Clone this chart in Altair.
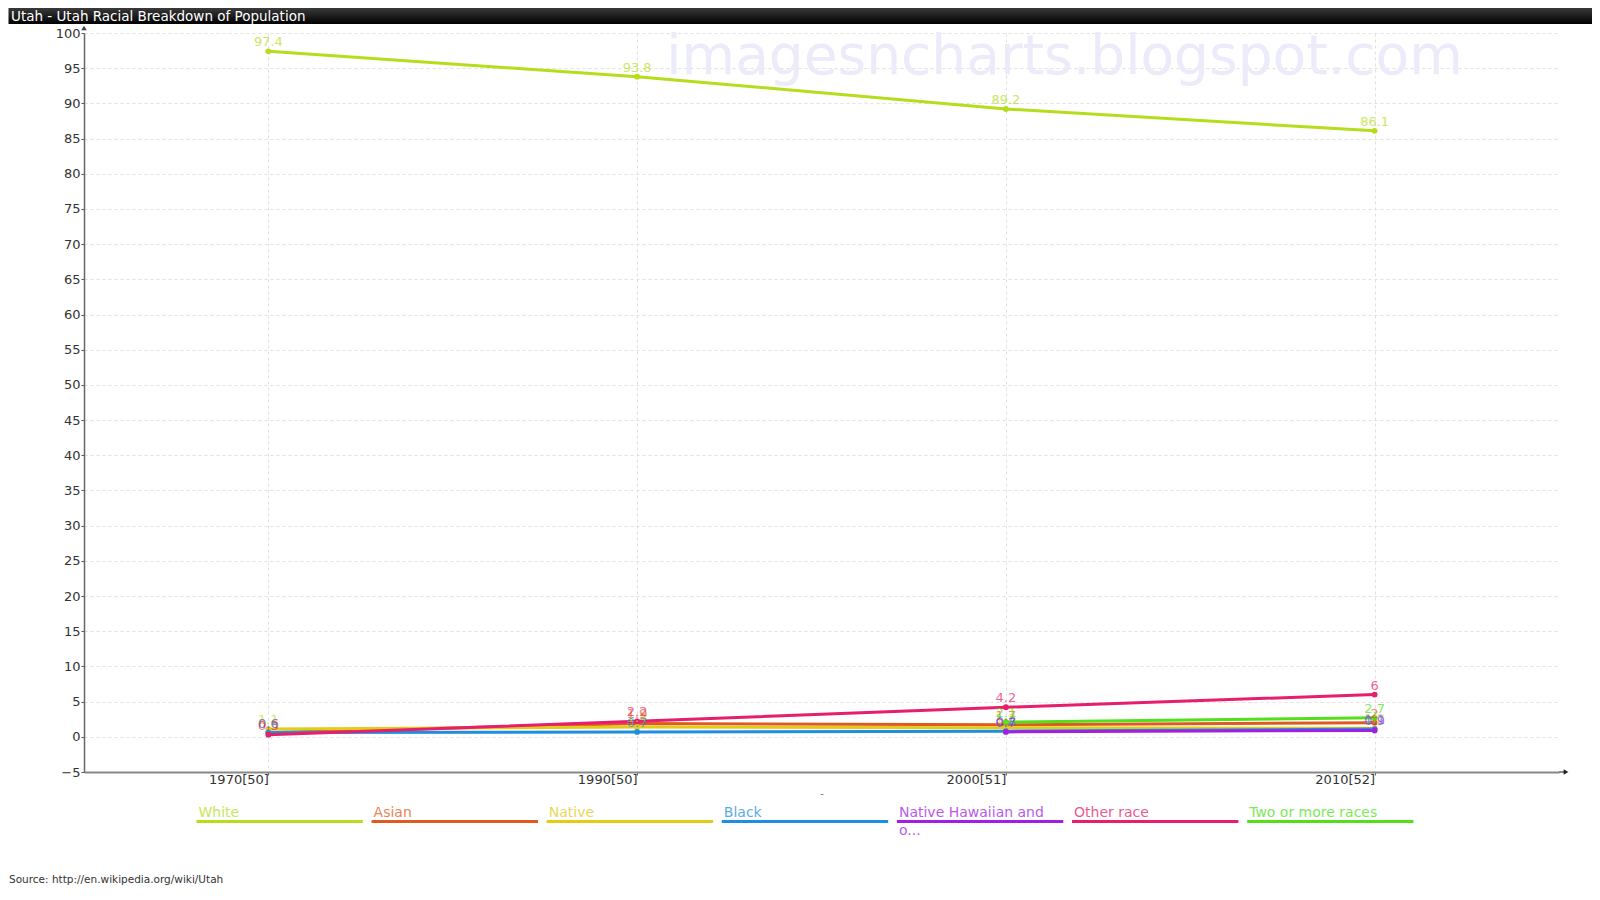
import altair as alt
import pandas as pd

# ---------------- data ----------------
years = ["1970[50]", "1990[50]", "2000[51]", "2010[52]"]
series = ["White", "Asian", "Native", "Black", "Native Hawaiian and other",
          "Other race", "Two or more races"]
legend_labels = ["White", "Asian", "Native", "Black", "Native Hawaiian and\no...",
                 "Other race", "Two or more races"]
white = [97.4, 93.8, 89.2, 86.1]
asian = [0.6, 1.9, 1.7, 2.0]
native = [1.1, 1.4, 1.3, 1.2]
black = [0.6, 0.7, 0.8, 1.1]
hawaiian = [None, None, 0.7, 0.9]
other_race = [0.3, 2.2, 4.2, 6.0]
two_more = [None, None, 2.1, 2.7]
colors = ["#b6dd1c", "#e05a1e", "#e2cc18", "#1e8fe0", "#a41ee2", "#e61e6c", "#52e01c"]
y_ticks = list(range(-5, 101, 5))
title_text = "Utah - Utah Racial Breakdown of Population"
source_text = "Source: http://en.wikipedia.org/wiki/Utah"
watermark_text = "imagesncharts.blogspot.com"

rows = []
for name, vals in zip(series, [white, asian, native, black, hawaiian, other_race, two_more]):
    for yr, v in zip(years, vals):
        if v is not None:
            rows.append({"series": name, "year": yr, "value": v, "label": f"{v:g}"})
df = pd.DataFrame(rows)
leg_df = pd.DataFrame({"series": series, "label": legend_labels})
one = pd.DataFrame({"a": [0]})

W, H = 1475, 739
FONT = "DejaVu Sans"

color = alt.Color("series:N", scale=alt.Scale(domain=series, range=colors), legend=None)
x_enc = alt.X(
    "year:O",
    scale=alt.Scale(domain=years, type="point", padding=0.5),
    axis=alt.Axis(title="-", labelAngle=0, labelAlign="right", labelBaseline="top",
                  labelPadding=-2, tickSize=3, tickColor="#666", domainColor="#888",
                  domainWidth=2, grid=True, gridDash=[3, 3], gridColor="#e0e0e0",
                  labelFontSize=13, labelColor="#333", titleFontSize=10,
                  titleColor="#777", titlePadding=2, titleFontWeight="normal"),
)
y_enc = alt.Y(
    "value:Q",
    scale=alt.Scale(domain=[-5, 100], nice=False, zero=False),
    axis=alt.Axis(values=y_ticks, title=None, tickSize=3, labelPadding=1,
                  tickColor="#555", domainColor="#666", domainWidth=1.5, grid=True,
                  gridDash=[3, 3], gridColor="#e0e0e0", labelFontSize=13,
                  labelColor="#333"),
)

base = alt.Chart(df).encode(x=x_enc, y=y_enc, color=color)
lines = base.mark_line(strokeWidth=3)
points = base.mark_circle(size=34, opacity=1)
labels = base.mark_text(dy=-5, baseline="alphabetic", fontSize=13, opacity=0.7).encode(
    text="label:N")
main = alt.layer(lines, points, labels)

leg_scale = alt.Scale(type="band", domain=series, range=[112.5, 1329.5],
                      paddingInner=0.05, paddingOuter=0)
leg_bar = alt.Chart(leg_df).mark_rect().encode(
    x=alt.X("series:N", scale=leg_scale, axis=None),
    y=alt.value(787), y2=alt.value(790), color=color)
leg_text = alt.Chart(leg_df).mark_text(align="left", baseline="alphabetic", fontSize=14,
                                       dx=2, opacity=0.75, lineHeight=18,
                                       lineBreak="\n").encode(
    x=alt.X("series:N", scale=leg_scale, axis=None, bandPosition=0),
    y=alt.value(784), text="label:N", color=color)
legend = alt.layer(leg_bar, leg_text)

watermark = alt.Chart(one).mark_text(
    text=watermark_text, fontSize=55, color="#ebebfa", align="center",
    baseline="alphabetic").encode(x=alt.value(980.5), y=alt.value(40.5))

title_bar = alt.Chart(one).mark_rect(
    fill=alt.LinearGradient(gradient="linear",
                            stops=[alt.GradientStop(color="#3a3a3a", offset=0),
                                   alt.GradientStop(color="#000000", offset=1)],
                            x1=0, x2=0, y1=0, y2=1)
).encode(x=alt.value(-75.5), x2=alt.value(1508), y=alt.value(-25), y2=alt.value(-9))
title_txt = alt.Chart(one).mark_text(
    text=title_text, color="white", fontSize=13.5, align="left",
    baseline="alphabetic").encode(x=alt.value(-73), y=alt.value(-12.5))

source = alt.Chart(one).mark_text(
    text=source_text, fontSize=10.5, color="#333", align="left",
    baseline="alphabetic").encode(x=alt.value(-75), y=alt.value(850))

y_arrow = alt.Chart(one).mark_point(shape="triangle-up", filled=True, size=30,
                                    color="#444", opacity=1).encode(
    x=alt.value(0), y=alt.value(-5))
x_ext = alt.Chart(one).mark_rule(color="#888", strokeWidth=2).encode(
    x=alt.value(W), x2=alt.value(W + 6), y=alt.value(H))
x_arrow = alt.Chart(one).mark_point(shape="triangle-right", filled=True, size=30,
                                    color="#222", opacity=1).encode(
    x=alt.value(W + 7), y=alt.value(H))

chart = alt.layer(
    watermark, main, legend, title_bar, title_txt, source, y_arrow, x_ext, x_arrow
).resolve_scale(x="independent").properties(
    width=W, height=H, padding=0
).configure(font=FONT).configure_view(stroke=None)

chart.save("out.html", embed_options={"renderer": "svg", "actions": False})
